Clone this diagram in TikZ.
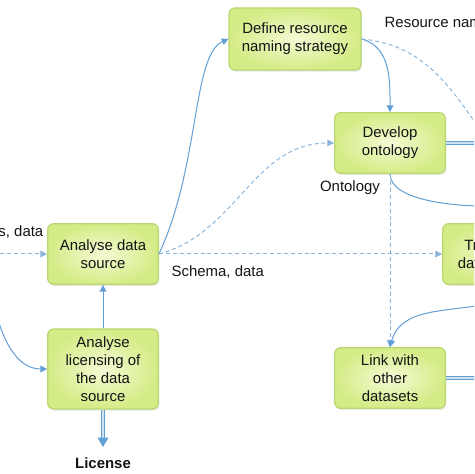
\documentclass[tikz,border=0pt]{standalone}
\usepackage{fontspec}
\setmainfont{Liberation Sans}
\usetikzlibrary{arrows.meta,shadows}

\definecolor{boxline}{RGB}{186,216,112}
\definecolor{boxin}{RGB}{244,250,212}
\definecolor{boxout}{RGB}{212,236,134}
\definecolor{flowblue}{RGB}{96,158,212}
\definecolor{dashblue}{RGB}{138,180,218}

\begin{document}
\begin{tikzpicture}[
    x=0.75pt,y=0.75pt,
    font=\fontsize{11.2}{13.5}\selectfont,
    >={Triangle[width=5pt,length=5pt]},
    box/.style={
        draw=boxline,
        line width=0.9pt,
        rounded corners=4.5pt,
        inner color=boxin,
        outer color=boxout,
        align=center,
        text=black!92,
        inner sep=2pt,
        minimum width=83pt,
        minimum height=45.5pt,
        drop shadow={opacity=0.18, shadow xshift=0.8pt, shadow yshift=-1.2pt}
    },
    widebox/.style={box, minimum width=99pt, minimum height=46.5pt},
    tallbox/.style={box, minimum height=60pt},
    flow/.style={->, line width=0.75pt, draw=flowblue},
    hintflow/.style={->, line width=0.75pt, draw=dashblue, dash pattern=on 3pt off 2.2pt},
    dbl/.style={draw=flowblue, line width=0.65pt, double=flowblue!30, double distance=1.4pt},
    lbl/.style={font=\fontsize{11.2}{13.5}\selectfont, text=black!92}
]

\useasboundingbox (0,0) rectangle (474,474);
\clip (0,0) rectangle (474,474);

% -----------------------------------------------------------------------------
% Process steps
% -----------------------------------------------------------------------------
\node[widebox] (naming) at (295,435) {Define resource\\naming strategy};
\node[box] (onto) at (390,331) {Develop\\ontology};
\node[box] (analyse) at (103,220) {Analyse data\\source};
\node[tallbox] (licence) at (103,105) {Analyse\\licensing of\\the data\\source};
\node[box] (link) at (390,96) {Link with\\other\\datasets};
\node[box] (transform) at (498,220) {Transform\\data to RDF};

% loose ends leaving the frame
\coordinate (srcdata) at (0,220);
\coordinate (srclic) at (-3,158);
\coordinate (licout) at (103,27);
\coordinate (licshaft) at (103,36);
\coordinate (namingtail) at (490,330);
\coordinate (ontoout) at (480,331);
\coordinate (ontotail) at (482,268);
\coordinate (linkin) at (482,169);
\coordinate (linkout) at (480,96);

% -----------------------------------------------------------------------------
% Connectors
% -----------------------------------------------------------------------------
\draw[hintflow] (srcdata) -- (analyse.west);
\draw[flow] (srclic) to[out=-75,in=180] (licence.west);
\draw[flow] (licence.north) -- (analyse.south);
\draw[dbl] (licence.south) -- (licshaft);
\draw[flow, -{Triangle[width=8pt,length=7pt]}] (licshaft) -- (licout);

\draw[flow] (analyse.east) to[out=65,in=204,out looseness=1.1,in looseness=0.45] (naming.west);
\draw[hintflow] (analyse.east) to[out=15,in=180] (onto.west);
\draw[hintflow] (analyse.east) -- (transform.west);

\draw[flow] (naming.east) to[out=-15,in=90] (onto.north);
\draw[hintflow] (naming.east) to[out=-5,in=125] (namingtail);

\draw[dbl] (onto.east) -- (ontoout);
\draw[line width=0.75pt, draw=flowblue] (onto.south) to[out=-90,in=180,looseness=0.7] (ontotail);
\draw[hintflow] (onto.south) -- (link.north);
\draw[flow] (linkin) to[out=190,in=75] (link.north);
\draw[dbl] (link.east) -- (linkout);

% -----------------------------------------------------------------------------
% Labels
% -----------------------------------------------------------------------------
\node[lbl, anchor=west] (lblnames) at (380,452) {Resource names};
\node[lbl, anchor=east] (lblin) at (48,242) {Schemas, data};
\node[lbl, anchor=west] (lblschema) at (167,202) {Schema, data};
\node[lbl] (lblonto) at (350,286) {Ontology};
\node[lbl, font=\fontsize{11.2}{13.5}\selectfont\bfseries] (lbllicense) at (103,11) {License};

\end{tikzpicture}
\end{document}
